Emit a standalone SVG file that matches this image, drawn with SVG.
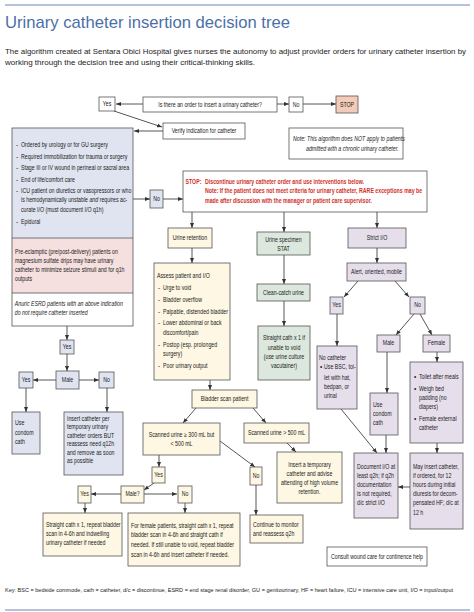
<svg xmlns="http://www.w3.org/2000/svg" width="474" height="612" viewBox="0 0 474 612">
<defs>
<marker id="ah" viewBox="0 0 10 10" refX="10" refY="5" markerWidth="5" markerHeight="5" markerUnits="userSpaceOnUse" orient="auto"><path d="M0,1 L10,5 L0,9z" fill="#333"/></marker>
<style>
.bx{stroke:#555;stroke-width:0.8}
.wh{fill:#fff}.bl{fill:#dfe4f0}.pk{fill:#f6e0df}.ye{fill:#fdf7e3}.gr{fill:#dce8dd}.pu{fill:#e6dfeb}.st{fill:#f3cbb8}
.t{font-family:"Liberation Sans",Arial,sans-serif;font-size:6.4px;fill:#222;transform-box:fill-box;transform-origin:0 0;transform:scaleX(0.82)}
.c{text-anchor:middle;transform-origin:50% 0}
.b{font-family:"Liberation Sans",Arial,sans-serif;font-size:6.4px;fill:#222}
.i{font-style:italic}
.r{fill:#d22f2a;font-weight:bold}
.cn{stroke:#444;stroke-width:0.9;fill:none;marker-end:url(#ah)}
</style>
</defs>
<rect width="474" height="612" fill="#fff"/>
<line x1="5" y1="5" x2="470" y2="5" stroke="#6a86bd" stroke-width="1.2"/>
<line x1="5" y1="610" x2="470" y2="610" stroke="#6a86bd" stroke-width="1.2"/>
<text x="5" y="28" font-family="Liberation Sans,sans-serif" font-size="17" fill="#4c6fa8" textLength="285" lengthAdjust="spacingAndGlyphs">Urinary catheter insertion decision tree</text>
<text font-family="Liberation Sans,sans-serif" font-size="7" fill="#222"><tspan x="5" y="54" textLength="461" lengthAdjust="spacingAndGlyphs">The algorithm created at Sentara Obici Hospital gives nurses the autonomy to adjust provider orders for urinary catheter insertion by</tspan><tspan x="5" y="65" textLength="250" lengthAdjust="spacingAndGlyphs">working through the decision tree and using their critical-thinking skills.</tspan></text>

<g id="connectors">
<line class="cn" x1="143" y1="104" x2="116" y2="104"/>
<line class="cn" x1="277" y1="104" x2="289" y2="104"/>
<line class="cn" x1="303" y1="104" x2="336" y2="104"/>
<line class="cn" x1="114" y1="111" x2="162" y2="127"/>
<line class="cn" x1="163" y1="131" x2="134" y2="131"/>
<line class="cn" x1="133" y1="199" x2="150" y2="199"/>
<line class="cn" x1="163" y1="199" x2="183" y2="199"/>
<line class="cn" x1="192" y1="212" x2="192" y2="228"/>
<line class="cn" x1="284" y1="212" x2="284" y2="232"/>
<line class="cn" x1="377" y1="212" x2="377" y2="228"/>
<line class="cn" x1="192" y1="248" x2="192" y2="263"/>
<line class="cn" x1="210" y1="380" x2="210" y2="390"/>
<line class="cn" x1="196" y1="408" x2="183" y2="423"/>
<line class="cn" x1="253" y1="408" x2="266" y2="423"/>
<line class="cn" x1="220" y1="441" x2="255" y2="467"/>
<line class="cn" x1="256" y1="485" x2="256" y2="515"/>
<line class="cn" x1="287" y1="443" x2="296" y2="452"/>
<line class="cn" x1="159" y1="455" x2="159" y2="467"/>
<line class="cn" x1="154" y1="483" x2="144" y2="490"/>
<line class="cn" x1="121" y1="494" x2="91" y2="494"/>
<line class="cn" x1="144" y1="494" x2="177" y2="494"/>
<line class="cn" x1="85" y1="503" x2="85" y2="513"/>
<line class="cn" x1="185" y1="503" x2="185" y2="513"/>
<line class="cn" x1="67" y1="326" x2="67" y2="340"/>
<line class="cn" x1="67" y1="354" x2="67" y2="371"/>
<line class="cn" x1="56" y1="380" x2="33" y2="380"/>
<line class="cn" x1="79" y1="380" x2="99" y2="380"/>
<line class="cn" x1="26" y1="388" x2="26" y2="412"/>
<line class="cn" x1="107" y1="388" x2="107" y2="412"/>
<line class="cn" x1="284" y1="255" x2="284" y2="284"/>
<line class="cn" x1="284" y1="301" x2="284" y2="326"/>
<line class="cn" x1="377" y1="248" x2="377" y2="263"/>
<line class="cn" x1="358" y1="281" x2="344" y2="297"/>
<line class="cn" x1="395" y1="281" x2="409" y2="297"/>
<line class="cn" x1="337" y1="314" x2="337" y2="346"/>
<line class="cn" x1="414" y1="314" x2="396" y2="335"/>
<line class="cn" x1="420" y1="314" x2="432" y2="335"/>
<line class="cn" x1="387" y1="352" x2="387" y2="393"/>
<line class="cn" x1="437" y1="352" x2="437" y2="362"/>
<line class="cn" x1="386" y1="435" x2="386" y2="453"/>
<line class="cn" x1="341" y1="409" x2="377" y2="453"/>
<line class="cn" x1="437" y1="443" x2="437" y2="453"/>
<line class="cn" x1="410" y1="487" x2="398" y2="487"/>
</g>

<g id="yes-top"><rect class="bx wh" x="99" y="97" width="16" height="14"/><text class="t c" x="107" y="106.5">Yes</text></g>
<g id="question"><rect class="bx wh" x="143" y="97" width="134" height="15"/><text class="t c" x="210" y="107">Is there an order to insert a urinary catheter?</text></g>
<g id="no-top"><rect class="bx wh" x="289" y="97" width="14" height="15"/><text class="t c" x="296" y="107">No</text></g>
<g id="stop-top"><rect class="bx st" x="336" y="96" width="22" height="17"/><text class="t c" x="347" y="107" fill="#d05a40">STOP</text></g>
<g id="verify"><rect class="bx wh" x="163" y="123" width="82" height="16"/><text class="t c" x="204" y="133.5">Verify indication for catheter</text></g>
<g id="note"><rect class="bx wh" x="289" y="128" width="114" height="31"/><text class="t i"><tspan x="293" y="141">Note: This algorithm does NOT apply to patients</tspan></text><text class="t i"><tspan x="306" y="151">admitted with a chronic urinary catheter.</tspan></text></g>

<g id="indications">
<rect class="bl" x="12" y="128" width="121" height="110"/>
<rect class="pk" x="12" y="238" width="121" height="55"/>
<rect class="wh" x="12" y="293" width="121" height="33"/>
<line x1="12" y1="238" x2="133" y2="238" stroke="#555" stroke-width="0.8"/>
<line x1="12" y1="293" x2="133" y2="293" stroke="#555" stroke-width="0.8"/>
<rect x="12" y="128" width="121" height="198" fill="none" class="bx"/>
<text class="b"><tspan x="16" y="147">-</tspan><tspan x="16" y="159">-</tspan><tspan x="16" y="170">-</tspan><tspan x="16" y="182">-</tspan><tspan x="16" y="193">-</tspan><tspan x="16" y="224">-</tspan></text>
<text class="t">
<tspan x="21" y="147">Ordered by urology or for GU surgery</tspan>
<tspan x="21" y="159">Required immobilization for trauma or surgery</tspan>
<tspan x="21" y="170">Stage III or IV wound in perineal or sacral area</tspan>
<tspan x="21" y="182">End of life/comfort care</tspan>
<tspan x="21" y="193">ICU patient on diuretics or vasopressors or who</tspan>
<tspan x="21" y="202.5">is hemodynamically unstable <tspan font-style="italic">and</tspan> requires ac-</tspan>
<tspan x="21" y="212">curate I/O (must document I/O q1h)</tspan>
<tspan x="21" y="224">Epidural</tspan>
</text>
<text class="t"><tspan x="15" y="254">Pre-eclamptic (pre/post-delivery) patients on</tspan><tspan x="15" y="263">magnesium sulfate drips may have urinary</tspan><tspan x="15" y="272">catheter to minimize seizure stimuli and for q1h</tspan><tspan x="15" y="281">outputs</tspan></text>
<text class="t i"><tspan x="15" y="306">Anuric ESRD patients with an above indication</tspan><tspan x="15" y="315">do not require catheter inserted</tspan></text>
</g>

<g id="no-mid"><rect class="bx bl" x="150" y="190" width="13" height="18"/><text class="t c" x="156.5" y="201">No</text></g>
<g id="stop-box"><rect class="bx wh" x="183" y="171" width="244" height="41"/><text class="t r" x="185.5" y="184">STOP:</text><text class="t r"><tspan x="205" y="184">Discontinue urinary catheter order and use interventions below.</tspan><tspan x="205" y="193.5">Note: If the patient does not meet criteria for urinary catheter, RARE exceptions may be</tspan><tspan x="205" y="203">made after discussion with the manager or patient care supervisor.</tspan></text></g>

<g id="urine-retention"><rect class="bx ye" x="168" y="228" width="44" height="20"/><text class="t c" x="190" y="240">Urine retention</text></g>
<g id="assess"><rect class="bx ye" x="154" y="263" width="76" height="117"/>
<text class="b"><tspan x="158" y="290">-</tspan><tspan x="158" y="302">-</tspan><tspan x="158" y="314">-</tspan><tspan x="158" y="325">-</tspan><tspan x="158" y="347">-</tspan><tspan x="158" y="368">-</tspan></text>
<text class="t" x="157" y="278">Assess patient and I/O</text>
<text class="t">
<tspan x="163" y="290">Urge to void</tspan>
<tspan x="163" y="302">Bladder overflow</tspan>
<tspan x="163" y="314">Palpable, distended bladder</tspan>
<tspan x="163" y="325">Lower abdominal or back</tspan>
<tspan x="163" y="335">discomfort/pain</tspan>
<tspan x="163" y="347">Postop (esp. prolonged</tspan>
<tspan x="163" y="356">surgery)</tspan>
<tspan x="163" y="368">Poor urinary output</tspan>
</text></g>
<g id="bladder-scan"><rect class="bx ye" x="192" y="390" width="65" height="18"/><text class="t c" x="224.5" y="401">Bladder scan patient</text></g>
<g id="scan-300"><rect class="bx ye" x="143" y="423" width="77" height="32"/><text class="t c"><tspan x="181.5" y="437">Scanned urine ≥ 300 mL but</tspan><tspan x="181.5" y="446">&lt; 500 mL</tspan></text></g>
<g id="scan-500"><rect class="bx ye" x="244" y="423" width="65" height="20"/><text class="t c" x="276.5" y="435">Scanned urine &gt; 500 mL</text></g>
<g id="insert-temp"><rect class="bx ye" x="277" y="452" width="65" height="51"/><text class="t c"><tspan x="309.5" y="467">Insert a temporary</tspan><tspan x="309.5" y="476">catheter and advise</tspan><tspan x="309.5" y="485">attending of high volume</tspan><tspan x="309.5" y="494">retention.</tspan></text></g>
<g id="no-scan"><rect class="bx ye" x="250" y="467" width="12" height="18"/><text class="t c" x="256" y="478">No</text></g>
<g id="continue"><rect class="bx ye" x="250" y="515" width="53" height="28"/><text class="t"><tspan x="253" y="527">Continue to monitor</tspan><tspan x="253" y="536">and reassess q2h</tspan></text></g>
<g id="yes-scan"><rect class="bx ye" x="152" y="467" width="13" height="16"/><text class="t c" x="158.5" y="477">Yes</text></g>
<g id="male-q"><rect class="bx ye" x="121" y="486" width="23" height="17"/><text class="t c" x="132.5" y="496.5">Male?</text></g>
<g id="yes-male-q"><rect class="bx ye" x="78" y="486" width="13" height="17"/><text class="t c" x="84.5" y="496.5">Yes</text></g>
<g id="no-male-q"><rect class="bx ye" x="178" y="486" width="14" height="17"/><text class="t c" x="185" y="496.5">No</text></g>
<g id="straight-male"><rect class="bx ye" x="43" y="513" width="79" height="43"/><text class="t"><tspan x="46" y="527">Straight cath x 1, repeat bladder</tspan><tspan x="46" y="536">scan in 4-6h and indwelling</tspan><tspan x="46" y="545">urinary catheter if needed</tspan></text></g>
<g id="straight-female"><rect class="bx ye" x="128" y="513" width="112" height="53"/><text class="t"><tspan x="131" y="528">For female patients, straight cath x 1, repeat</tspan><tspan x="131" y="537">bladder scan in 4-6h and straight cath if</tspan><tspan x="131" y="547">needed. If still unable to void, repeat bladder</tspan><tspan x="131" y="557">scan in 4-6h and insert catheter if needed.</tspan></text></g>

<g id="yes-left"><rect class="bx bl" x="60" y="340" width="14" height="14"/><text class="t c" x="67" y="349.5">Yes</text></g>
<g id="male-left"><rect class="bx bl" x="56" y="371" width="23" height="18"/><text class="t c" x="67.5" y="382">Male</text></g>
<g id="yes-male-left"><rect class="bx bl" x="19" y="372" width="14" height="16"/><text class="t c" x="26" y="382">Yes</text></g>
<g id="no-male-left"><rect class="bx bl" x="99" y="372" width="15" height="16"/><text class="t c" x="106.5" y="382">No</text></g>
<g id="condom-left"><rect class="bx bl" x="12" y="412" width="28" height="42"/><text class="t"><tspan x="15" y="425">Use</tspan><tspan x="15" y="435">condom</tspan><tspan x="15" y="444">cath</tspan></text></g>
<g id="insert-left"><rect class="bx bl" x="64" y="412" width="59" height="63"/><text class="t"><tspan x="67" y="421">Insert catheter per</tspan><tspan x="67" y="429.5">temporary urinary</tspan><tspan x="67" y="438">catheter orders BUT</tspan><tspan x="67" y="446.5">reassess need q12h</tspan><tspan x="67" y="455">and remove as soon</tspan><tspan x="67" y="463.5">as possible</tspan></text></g>

<g id="urine-specimen"><rect class="bx gr" x="257" y="232" width="53" height="23"/><text class="t c"><tspan x="283.5" y="242">Urine specimen</tspan><tspan x="283.5" y="251">STAT</tspan></text></g>
<g id="clean-catch"><rect class="bx gr" x="257" y="284" width="53" height="17"/><text class="t c" x="283.5" y="295">Clean-catch urine</text></g>
<g id="straight-green"><rect class="bx gr" x="258" y="326" width="52" height="54"/><text class="t c"><tspan x="284" y="340">Straight cath x 1 if</tspan><tspan x="284" y="350">unable to void</tspan><tspan x="284" y="359">(use urine culture</tspan><tspan x="284" y="368">vacutainer)</tspan></text></g>

<g id="strict-io"><rect class="bx pu" x="348" y="228" width="58" height="20"/><text class="t c" x="377" y="240">Strict I/O</text></g>
<g id="alert"><rect class="bx pu" x="347" y="263" width="59" height="18"/><text class="t c" x="376.5" y="274">Alert, oriented, mobile</text></g>
<g id="yes-alert"><rect class="bx pu" x="330" y="297" width="13" height="17"/><text class="t c" x="336.5" y="307.5">Yes</text></g>
<g id="no-alert"><rect class="bx pu" x="410" y="297" width="15" height="17"/><text class="t c" x="417.5" y="307.5">No</text></g>
<g id="no-catheter"><rect class="bx pu" x="317" y="346" width="40" height="63"/><text class="t" x="319" y="360">No catheter</text><text class="b" x="320" y="369">•</text><text class="t"><tspan x="324" y="369">Use BSC, toi-</tspan><tspan x="324" y="380">let with hat,</tspan><tspan x="324" y="389">bedpan, or</tspan><tspan x="324" y="398">urinal</tspan></text></g>
<g id="male-right"><rect class="bx pu" x="377" y="335" width="23" height="17"/><text class="t c" x="388.5" y="345.5">Male</text></g>
<g id="female-right"><rect class="bx pu" x="423" y="335" width="27" height="17"/><text class="t c" x="436.5" y="345.5">Female</text></g>
<g id="condom-right"><rect class="bx pu" x="370" y="393" width="28" height="42"/><text class="t"><tspan x="373" y="407">Use</tspan><tspan x="373" y="416">condom</tspan><tspan x="373" y="425">cath</tspan></text></g>
<g id="female-list"><rect class="bx pu" x="410" y="362" width="53" height="81"/><text class="b"><tspan x="414" y="379">•</tspan><tspan x="414" y="391">•</tspan><tspan x="414" y="421">•</tspan></text><text class="t"><tspan x="419" y="379">Toilet after meals</tspan><tspan x="419" y="391">Weigh bed</tspan><tspan x="419" y="400">padding (no</tspan><tspan x="419" y="409">diapers)</tspan><tspan x="419" y="421">Female external</tspan><tspan x="419" y="430">catheter</tspan></text></g>
<g id="document"><rect class="bx pu" x="354" y="453" width="44" height="65"/><text class="t"><tspan x="357" y="469">Document I/O at</tspan><tspan x="357" y="478">least q2h; if q2h</tspan><tspan x="357" y="487">documentation</tspan><tspan x="357" y="496">is not required,</tspan><tspan x="357" y="505">d/c strict I/O</tspan></text></g>
<g id="may-insert"><rect class="bx pu" x="410" y="453" width="53" height="76"/><text class="t"><tspan x="413" y="469">May insert catheter,</tspan><tspan x="413" y="478">if ordered, for 12</tspan><tspan x="413" y="487">hours during initial</tspan><tspan x="413" y="496">diuresis for decom-</tspan><tspan x="413" y="505">pensated HF; d/c at</tspan><tspan x="413" y="515">12 h</tspan></text></g>
<g id="consult"><rect class="bx wh" x="327" y="547" width="100" height="19"/><text class="t c" x="377" y="559">Consult wound care for continence help</text></g>

<text x="5" y="592" font-family="Liberation Sans,sans-serif" font-size="5.3" fill="#222" textLength="448" lengthAdjust="spacingAndGlyphs">Key: BSC = bedside commode, cath = catheter, d/c = discontinue, ESRD = end stage renal disorder, GU = genitourinary, HF = heart failure, ICU = intensive care unit, I/O = input/output</text>
</svg>
